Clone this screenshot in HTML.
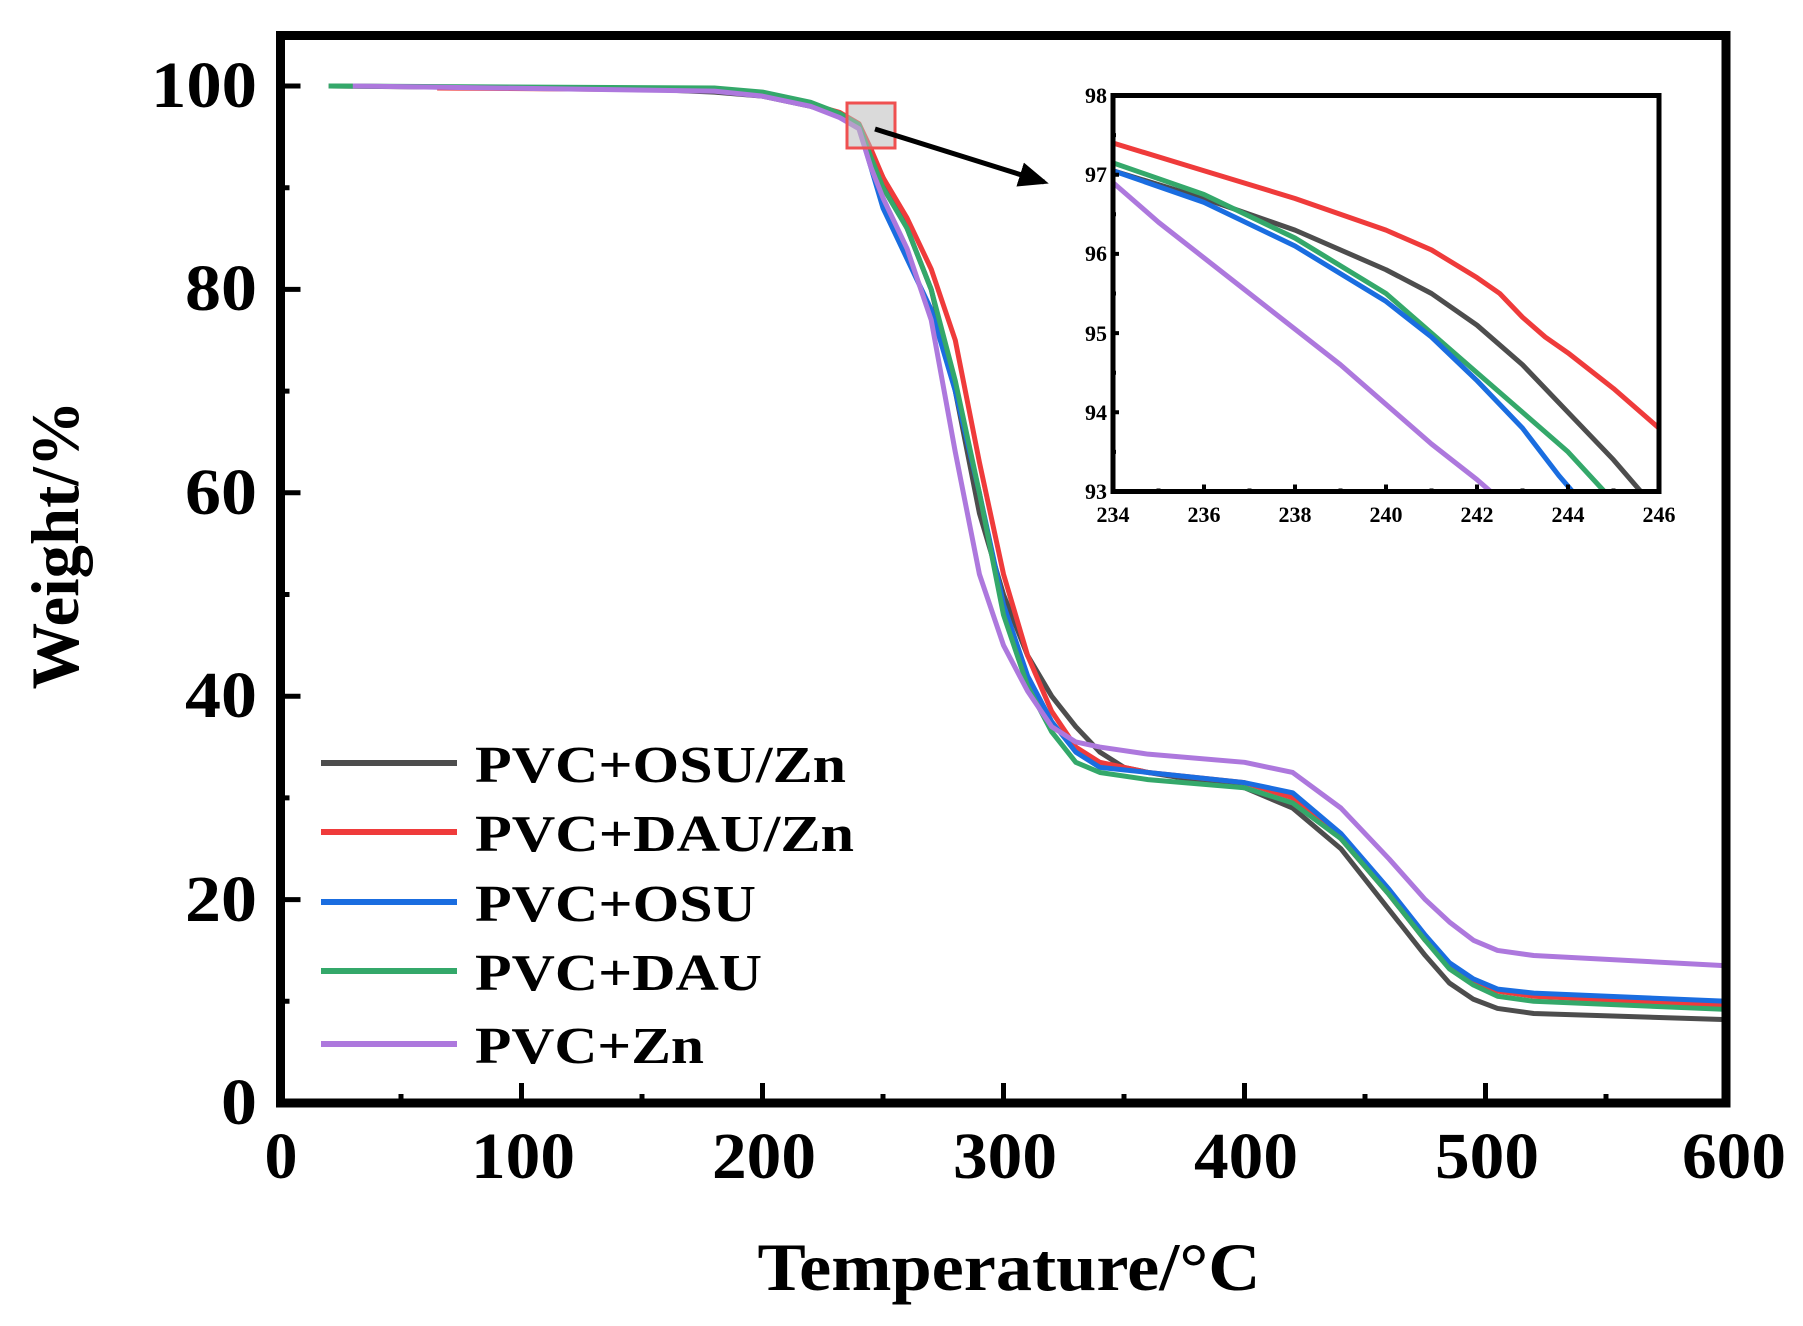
<!DOCTYPE html>
<html><head><meta charset="utf-8"><style>
html,body{margin:0;padding:0;background:#fff;}
svg{display:block;}
text{font-family:"Liberation Serif",serif;font-weight:bold;fill:#000;}
</style></head><body>
<svg width="1803" height="1326" viewBox="0 0 1803 1326" xmlns="http://www.w3.org/2000/svg">
<defs>
<clipPath id="ci"><rect x="1113" y="95.5" width="546" height="396"/></clipPath>
<marker id="ah" markerWidth="6" markerHeight="5" refX="5" refY="2.5" orient="auto" markerUnits="strokeWidth"><path d="M0,0 L6,2.5 L0,5 z" fill="#000"/></marker>
</defs>
<g stroke="#000" stroke-width="5">
<path d="M521.5,1103 v-20 M762.5,1103 v-20 M1003.5,1103 v-20 M1244.5,1103 v-20 M1485.5,1103 v-20"/>
<path d="M401,1103 v-9 M642,1103 v-9 M883,1103 v-9 M1124,1103 v-9 M1365,1103 v-9 M1606,1103 v-9"/>
<path d="M280.5,899.6 h20 M280.5,696.2 h20 M280.5,492.8 h20 M280.5,289.4 h20 M280.5,86 h20"/>
<path d="M280.5,1001.3 h9 M280.5,797.9 h9 M280.5,594.5 h9 M280.5,391.1 h9 M280.5,187.7 h9"/>
</g>
<g font-size="66" text-anchor="end">
<text x="257" y="107" textLength="106" lengthAdjust="spacingAndGlyphs">100</text>
<text x="257" y="310" textLength="72" lengthAdjust="spacingAndGlyphs">80</text>
<text x="257" y="514" textLength="72" lengthAdjust="spacingAndGlyphs">60</text>
<text x="257" y="717" textLength="72" lengthAdjust="spacingAndGlyphs">40</text>
<text x="257" y="921" textLength="72" lengthAdjust="spacingAndGlyphs">20</text>
<text x="257" y="1124" textLength="36" lengthAdjust="spacingAndGlyphs">0</text>
</g>
<g font-size="66" text-anchor="middle">
<text x="281" y="1178">0</text>
<text x="523" y="1178" textLength="104" lengthAdjust="spacingAndGlyphs">100</text>
<text x="764" y="1178" textLength="104" lengthAdjust="spacingAndGlyphs">200</text>
<text x="1005" y="1178" textLength="104" lengthAdjust="spacingAndGlyphs">300</text>
<text x="1246" y="1178" textLength="104" lengthAdjust="spacingAndGlyphs">400</text>
<text x="1487" y="1178" textLength="104" lengthAdjust="spacingAndGlyphs">500</text>
<text x="1734" y="1178" textLength="104" lengthAdjust="spacingAndGlyphs">600</text>
</g>
<text x="1009" y="1290" font-size="68" text-anchor="middle" textLength="503" lengthAdjust="spacingAndGlyphs">Temperature/°C</text>
<text transform="translate(78,545) rotate(-90)" font-size="68" text-anchor="middle" textLength="289" lengthAdjust="spacingAndGlyphs">Weight/%</text>

<g transform="translate(280.5,1103) scale(2.41,-10.17)" fill="none" stroke-width="5" stroke-linejoin="round">
<polyline vector-effect="non-scaling-stroke" stroke="#4d4d4d" points="20,100 150,99.7 180,99.4 200,99 220,98 232,97.2 240,96 245,93.5 250,91 260,86 270,80 280,70 290,58 300,50 310,44 320,40 330,37 340,34.5 350,33 360,32.5 400,31 420,29 440,25 460,19 475,14.5 485,11.8 495,10.2 505,9.3 520,8.8 600,8.2"/>
<polyline vector-effect="non-scaling-stroke" stroke="#ef3b3b" points="65,99.8 180,99.6 200,99.2 220,98.2 232,97.4 240,96.3 245,93.8 250,91 260,87 270,82 280,75 290,63 300,52 310,44 320,38.5 330,35 340,33.5 360,32.5 400,31.5 420,30 440,26 460,20.5 475,16 485,13.5 495,12 505,11 520,10.5 600,9.6"/>
<polyline vector-effect="non-scaling-stroke" stroke="#1a6de0" points="100,99.8 180,99.6 200,99.2 220,98.2 232,97.1 240,96 245,92 250,88 260,83 270,78 280,70 290,60 300,49 310,42 320,37.5 330,34.5 340,33 360,32.5 400,31.5 420,30.5 440,26.5 460,21 475,16.5 485,13.8 495,12.2 505,11.2 520,10.8 600,10"/>
<polyline vector-effect="non-scaling-stroke" stroke="#34a86a" points="20,100 180,99.8 200,99.4 220,98.4 232,97.3 240,96.2 245,93 250,90 260,86 270,80 280,71 290,60 300,48 310,41 320,36.5 330,33.5 340,32.5 360,31.8 400,31 420,29.5 440,26 460,20.5 475,16 485,13.2 495,11.6 505,10.5 520,10 600,9.2"/>
<polyline vector-effect="non-scaling-stroke" stroke="#ad78dd" points="30,100 180,99.5 200,99 220,98 232,96.9 240,95.8 245,92 250,89 260,84 270,77 280,64 290,52 300,45 310,40.5 320,37 330,35.5 340,35 360,34.3 400,33.5 420,32.5 440,29 460,24 475,20 485,17.8 495,16 505,15 520,14.5 600,13.5"/>
</g>
<rect x="847" y="103" width="48" height="45" fill="#bbb" fill-opacity="0.55" stroke="#ef5050" stroke-width="3"/>
<line x1="875" y1="129" x2="1044" y2="182" stroke="#000" stroke-width="5" marker-end="url(#ah)"/>

<rect x="280.5" y="35.5" width="1445.5" height="1067.5" fill="none" stroke="#000" stroke-width="9"/>

<g stroke-width="6">
<line x1="321" y1="763" x2="457" y2="763" stroke="#4d4d4d"/>
<line x1="321" y1="832" x2="457" y2="832" stroke="#ef3b3b"/>
<line x1="321" y1="902" x2="457" y2="902" stroke="#1a6de0"/>
<line x1="321" y1="971" x2="457" y2="971" stroke="#34a86a"/>
<line x1="321" y1="1044" x2="457" y2="1044" stroke="#ad78dd"/>
</g>
<g font-size="52">
<text x="475" y="782" textLength="371" lengthAdjust="spacingAndGlyphs">PVC+OSU/Zn</text>
<text x="475" y="851" textLength="379" lengthAdjust="spacingAndGlyphs">PVC+DAU/Zn</text>
<text x="475" y="921" textLength="281" lengthAdjust="spacingAndGlyphs">PVC+OSU</text>
<text x="475" y="990" textLength="287" lengthAdjust="spacingAndGlyphs">PVC+DAU</text>
<text x="475" y="1063" textLength="229" lengthAdjust="spacingAndGlyphs">PVC+Zn</text>
</g>

<rect x="1113" y="95.5" width="546" height="396" fill="#fff"/>
<g clip-path="url(#ci)">
<g transform="translate(-9534,7857.1) scale(45.5,-79.2)" fill="none" stroke-width="5" stroke-linejoin="round">
<polyline vector-effect="non-scaling-stroke" stroke="#ef3b3b" points="234,97.4 236,97.05 238,96.7 240,96.3 241,96.05 242,95.7 242.5,95.5 243,95.2 243.5,94.95 244,94.75 245,94.3 246,93.8"/>
<polyline vector-effect="non-scaling-stroke" stroke="#4d4d4d" points="234,97.05 236,96.7 238,96.3 240,95.8 241,95.5 242,95.1 243,94.6 244,94 245,93.4 245.6,93"/>
<polyline vector-effect="non-scaling-stroke" stroke="#34a86a" points="234,97.15 236,96.75 238,96.2 240,95.5 241,95 242,94.5 243,94 244,93.5 244.8,93"/>
<polyline vector-effect="non-scaling-stroke" stroke="#1a6de0" points="234,97.05 236,96.65 238,96.1 240,95.4 241,94.95 242,94.4 243,93.8 243.8,93.2 244.1,93"/>
<polyline vector-effect="non-scaling-stroke" stroke="#ad78dd" points="234,96.9 235,96.4 236,95.95 237,95.5 238,95.05 239,94.6 240,94.1 241,93.6 242,93.15 242.3,93"/>
</g>
</g>
<g stroke="#000" stroke-width="4">
<path d="M1204,491.5 v-7 M1295,491.5 v-7 M1386,491.5 v-7 M1477,491.5 v-7 M1568,491.5 v-7"/>
<path d="M1158.5,491.5 v-3 M1249.5,491.5 v-3 M1340.5,491.5 v-3 M1431.5,491.5 v-3 M1522.5,491.5 v-3 M1613.5,491.5 v-3"/>
<path d="M1113,412.3 h6 M1113,333.1 h6 M1113,253.9 h6 M1113,174.7 h6"/>
<path d="M1113,451.9 h3 M1113,372.7 h3 M1113,293.5 h3 M1113,214.3 h3 M1113,135.1 h3"/>
</g>
<rect x="1113" y="95.5" width="546" height="396" fill="none" stroke="#000" stroke-width="5"/>
<g font-size="22" text-anchor="end">
<text x="1107" y="103">98</text><text x="1107" y="182">97</text><text x="1107" y="261">96</text><text x="1107" y="341">95</text><text x="1107" y="420">94</text><text x="1107" y="499">93</text>
</g>
<g font-size="22" text-anchor="middle">
<text x="1113" y="522">234</text><text x="1204" y="522">236</text><text x="1295" y="522">238</text><text x="1386" y="522">240</text><text x="1477" y="522">242</text><text x="1568" y="522">244</text><text x="1659" y="522">246</text>
</g>
</svg>
</body></html>
